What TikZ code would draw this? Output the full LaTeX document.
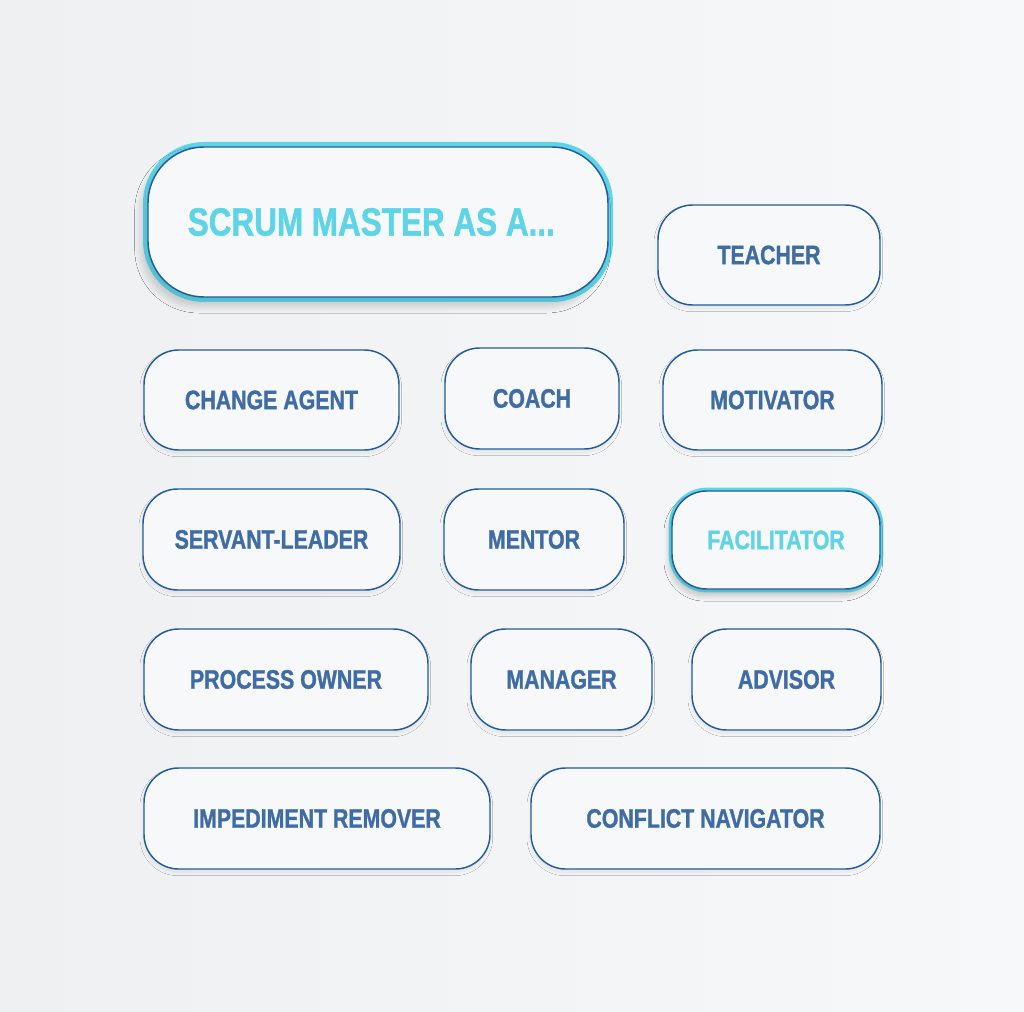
\documentclass[tikz,border=0pt]{standalone}
\usepackage{fontspec}
\setmainfont{Liberation Sans}
\newfontfamily\rolefont[FakeStretch=0.80,BoldFeatures={FakeBold=1.2}]{Liberation Sans}
\usepackage{xcolor}
\usetikzlibrary{shadows.blur}

\definecolor{bgray}{HTML}{EFF0F2}
\definecolor{bwhite}{HTML}{F7F8F9}
\definecolor{boxfill}{HTML}{F7F8F9}
\definecolor{rimblue}{HTML}{245C98}
\definecolor{roleblue}{HTML}{3F6CA4}
\definecolor{scrumcyan}{HTML}{5FD4E6}

\begin{document}
\begin{tikzpicture}[x=0.75pt,y=0.75pt,
    role/.style={draw=rimblue,line width=1.1pt,fill=boxfill,rectangle,
        rounded corners=26pt,minimum height=75pt,inner sep=0pt,
        text=roleblue,font=\rolefont\bfseries\fontsize{20}{24}\selectfont,
        blur shadow={shadow xshift=-0.5pt,shadow yshift=-2.5pt,shadow opacity=7,
            shadow blur radius=2.5pt,shadow blur steps=6}},
    highlight/.style={role,text=scrumcyan,
        preaction={draw=scrumcyan,line width=5pt}}]
    \useasboundingbox (0,0) rectangle (1024,-1012);
    \shade[left color=bgray,right color=bwhite] (0,0) rectangle (1024,-1012);

    \node[highlight,minimum width=460*0.75pt,minimum height=150*0.75pt,
        rounded corners=42pt,font=\rolefont\bfseries\fontsize{29.5}{34}\selectfont,
        preaction={draw=scrumcyan,line width=7.5pt},
        blur shadow={shadow xshift=-4pt,shadow yshift=-6pt,shadow opacity=11,
            shadow blur radius=6pt,shadow blur steps=10}]
        (scrum) at (378,-222) {\hspace*{-10pt}SCRUM MASTER AS A...};

    \node[role,minimum width=222*0.75pt] (teacher) at (769,-255) {TEACHER};

    \node[role,minimum width=255*0.75pt] (changeagent) at (271.5,-400) {CHANGE AGENT};
    \node[role,minimum width=174*0.75pt,minimum height=101*0.75pt] (coach) at (532,-398.5) {COACH};
    \node[role,minimum width=219*0.75pt] (motivator) at (772.5,-400) {MOTIVATOR};

    \node[role,minimum width=257*0.75pt,minimum height=101*0.75pt] (servant) at (271.5,-539.5) {SERVANT-LEADER};
    \node[role,minimum width=180*0.75pt,minimum height=101*0.75pt] (mentor) at (534,-539.5) {MENTOR};
    \node[highlight,minimum width=208*0.75pt,minimum height=98*0.75pt,
        blur shadow={shadow xshift=-2pt,shadow yshift=-5pt,shadow opacity=11,
            shadow blur radius=4pt,shadow blur steps=8}]
        (facilitator) at (776,-540) {FACILITATOR};

    \node[role,minimum width=284*0.75pt,minimum height=101*0.75pt] (processowner) at (286,-679.5) {PROCESS OWNER};
    \node[role,minimum width=181*0.75pt,minimum height=101*0.75pt] (manager) at (561.5,-679.5) {MANAGER};
    \node[role,minimum width=189*0.75pt,minimum height=101*0.75pt] (advisor) at (786.5,-679.5) {ADVISOR};

    \node[role,minimum width=346*0.75pt,minimum height=101*0.75pt] (impediment) at (317,-818.5) {IMPEDIMENT REMOVER};
    \node[role,minimum width=349*0.75pt,minimum height=101*0.75pt] (conflict) at (705.5,-818.5) {CONFLICT NAVIGATOR};
\end{tikzpicture}
\end{document}
